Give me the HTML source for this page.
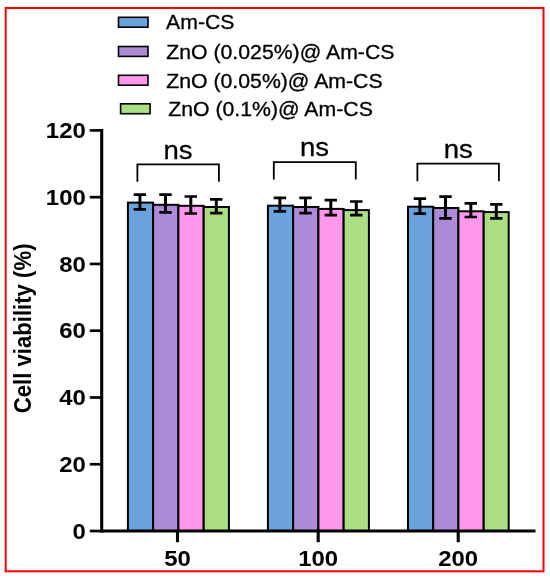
<!DOCTYPE html>
<html><head><meta charset="utf-8"><title>Cell viability chart</title>
<style>
html,body{margin:0;padding:0;background:#fff;}
body{width:550px;height:582px;overflow:hidden;}
text{font-family:"Liberation Sans",Arial,Helvetica,sans-serif;fill:#000;}
.b{font-weight:700;}
.r{font-weight:400;stroke:#000;stroke-width:0.3px;}
</style></head><body>
<svg width="550" height="582" viewBox="0 0 550 582" style="display:block">
<rect x="0" y="0" width="550" height="582" fill="#fff"/>
<rect x="5.7" y="8" width="537.8" height="563.3" fill="none" stroke="#ff0000" stroke-width="2"/>
<rect x="127.9" y="202.6" width="25.20" height="328.40" fill="#6aa2dc" stroke="#000" stroke-width="2"/>
<rect x="153.1" y="204.8" width="25.30" height="326.20" fill="#ad8ad6" stroke="#000" stroke-width="2"/>
<rect x="178.4" y="205.8" width="25.30" height="325.20" fill="#ff97ec" stroke="#000" stroke-width="2"/>
<rect x="203.7" y="207.0" width="25.20" height="324.00" fill="#acdf83" stroke="#000" stroke-width="2"/>
<path d="M133.70000000000002 194.6H146.1M133.70000000000002 209.3H146.1" stroke="#000" stroke-width="2.7" fill="none"/>
<path d="M139.9 194.6V209.3" stroke="#000" stroke-width="3" fill="none"/>
<path d="M159.3 194.6H171.7M159.3 212.3H171.7" stroke="#000" stroke-width="2.7" fill="none"/>
<path d="M165.5 194.6V212.3" stroke="#000" stroke-width="3" fill="none"/>
<path d="M184.60000000000002 196.5H197.0M184.60000000000002 213.5H197.0" stroke="#000" stroke-width="2.7" fill="none"/>
<path d="M190.8 196.5V213.5" stroke="#000" stroke-width="3" fill="none"/>
<path d="M210.10000000000002 199.3H222.5M210.10000000000002 213.1H222.5" stroke="#000" stroke-width="2.7" fill="none"/>
<path d="M216.3 199.3V213.1" stroke="#000" stroke-width="3" fill="none"/>
<path d="M137.4 181.8V164.3H218.9V181.8" stroke="#000" stroke-width="1.8" fill="none"/>
<text transform="translate(178,158.5) scale(1.035,1)" text-anchor="middle" font-size="26.6" class="r">ns</text>
<rect x="267.9" y="205.7" width="25.25" height="325.30" fill="#6aa2dc" stroke="#000" stroke-width="2"/>
<rect x="293.15" y="207.0" width="25.25" height="324.00" fill="#ad8ad6" stroke="#000" stroke-width="2"/>
<rect x="318.4" y="208.9" width="25.25" height="322.10" fill="#ff97ec" stroke="#000" stroke-width="2"/>
<rect x="343.65" y="210.1" width="25.25" height="320.90" fill="#acdf83" stroke="#000" stroke-width="2"/>
<path d="M273.7 197.8H286.09999999999997M273.7 211.3H286.09999999999997" stroke="#000" stroke-width="2.7" fill="none"/>
<path d="M279.9 197.8V211.3" stroke="#000" stroke-width="3" fill="none"/>
<path d="M299.3 197.8H311.7M299.3 213.2H311.7" stroke="#000" stroke-width="2.7" fill="none"/>
<path d="M305.5 197.8V213.2" stroke="#000" stroke-width="3" fill="none"/>
<path d="M324.6 200.2H337.0M324.6 215.1H337.0" stroke="#000" stroke-width="2.7" fill="none"/>
<path d="M330.8 200.2V215.1" stroke="#000" stroke-width="3" fill="none"/>
<path d="M350.1 201.5H362.5M350.1 215.1H362.5" stroke="#000" stroke-width="2.7" fill="none"/>
<path d="M356.3 201.5V215.1" stroke="#000" stroke-width="3" fill="none"/>
<path d="M273.8 179.5V162.1H355.8V179.5" stroke="#000" stroke-width="1.8" fill="none"/>
<text transform="translate(314.6,156.2) scale(1.035,1)" text-anchor="middle" font-size="26.6" class="r">ns</text>
<rect x="408" y="206.7" width="25.20" height="324.30" fill="#6aa2dc" stroke="#000" stroke-width="2"/>
<rect x="433.2" y="208.0" width="25.20" height="323.00" fill="#ad8ad6" stroke="#000" stroke-width="2"/>
<rect x="458.4" y="211.3" width="25.30" height="319.70" fill="#ff97ec" stroke="#000" stroke-width="2"/>
<rect x="483.7" y="212.1" width="25.00" height="318.90" fill="#acdf83" stroke="#000" stroke-width="2"/>
<path d="M413.7 198.6H426.09999999999997M413.7 213.6H426.09999999999997" stroke="#000" stroke-width="2.7" fill="none"/>
<path d="M419.9 198.6V213.6" stroke="#000" stroke-width="3" fill="none"/>
<path d="M439.3 196.7H451.7M439.3 218.3H451.7" stroke="#000" stroke-width="2.7" fill="none"/>
<path d="M445.5 196.7V218.3" stroke="#000" stroke-width="3" fill="none"/>
<path d="M464.6 203.3H477.0M464.6 217.0H477.0" stroke="#000" stroke-width="2.7" fill="none"/>
<path d="M470.8 203.3V217.0" stroke="#000" stroke-width="3" fill="none"/>
<path d="M490.1 204.3H502.5M490.1 218.3H502.5" stroke="#000" stroke-width="2.7" fill="none"/>
<path d="M496.3 204.3V218.3" stroke="#000" stroke-width="3" fill="none"/>
<path d="M417.4 181.2V163.6H498.9V181.2" stroke="#000" stroke-width="1.8" fill="none"/>
<text transform="translate(458.2,157.7) scale(1.035,1)" text-anchor="middle" font-size="26.6" class="r">ns</text>
<path d="M101.7 129.1V532.5" stroke="#000" stroke-width="3.1" fill="none"/>
<path d="M100.2 531H535.5" stroke="#000" stroke-width="3.1" fill="none"/>
<path d="M89.8 130.40H101" stroke="#000" stroke-width="2.7" fill="none"/>
<text transform="translate(85.8,138.00) scale(1.055,1)" text-anchor="end" font-size="22.7" class="b">120</text>
<path d="M89.8 197.17H101" stroke="#000" stroke-width="2.7" fill="none"/>
<text transform="translate(85.8,204.77) scale(1.055,1)" text-anchor="end" font-size="22.7" class="b">100</text>
<path d="M89.8 263.94H101" stroke="#000" stroke-width="2.7" fill="none"/>
<text transform="translate(85.8,271.54) scale(1.055,1)" text-anchor="end" font-size="22.7" class="b">80</text>
<path d="M89.8 330.71H101" stroke="#000" stroke-width="2.7" fill="none"/>
<text transform="translate(85.8,338.31) scale(1.055,1)" text-anchor="end" font-size="22.7" class="b">60</text>
<path d="M89.8 397.48H101" stroke="#000" stroke-width="2.7" fill="none"/>
<text transform="translate(85.8,405.08) scale(1.055,1)" text-anchor="end" font-size="22.7" class="b">40</text>
<path d="M89.8 464.25H101" stroke="#000" stroke-width="2.7" fill="none"/>
<text transform="translate(85.8,471.85) scale(1.055,1)" text-anchor="end" font-size="22.7" class="b">20</text>
<path d="M89.8 531.02H101" stroke="#000" stroke-width="2.7" fill="none"/>
<text transform="translate(85.8,538.62) scale(1.055,1)" text-anchor="end" font-size="22.7" class="b">0</text>
<path d="M177.5 531V542.2" stroke="#000" stroke-width="3.1" fill="none"/>
<text transform="translate(177.5,565.5) scale(1.055,1)" text-anchor="middle" font-size="22.7" class="b">50</text>
<path d="M318.2 531V542.2" stroke="#000" stroke-width="3.1" fill="none"/>
<text transform="translate(318.2,565.5) scale(1.055,1)" text-anchor="middle" font-size="22.7" class="b">100</text>
<path d="M458.2 531V542.2" stroke="#000" stroke-width="3.1" fill="none"/>
<text transform="translate(458.2,565.5) scale(1.055,1)" text-anchor="middle" font-size="22.7" class="b">200</text>
<text transform="translate(30.8,328.4) rotate(-90) scale(1,1.075)" text-anchor="middle" font-size="22.16" class="b">Cell viability (%)</text>
<rect x="118.5" y="17.3" width="29.5" height="9.9" fill="#6aa2dc" stroke="#000" stroke-width="1.6"/>
<text transform="translate(166,29) scale(1.085,1)" font-size="19.6" class="r">Am-CS</text>
<rect x="118.5" y="46.5" width="29.5" height="9.9" fill="#ad8ad6" stroke="#000" stroke-width="1.6"/>
<text transform="translate(166.2,59.0) scale(1.085,1)" font-size="19.6" class="r">ZnO (0.025%)@ Am-CS</text>
<rect x="118.5" y="75.3" width="29.5" height="9.9" fill="#ff97ec" stroke="#000" stroke-width="1.6"/>
<text transform="translate(166.2,87.8) scale(1.085,1)" font-size="19.6" class="r">ZnO (0.05%)@ Am-CS</text>
<rect x="120.6" y="103.8" width="29.5" height="9.9" fill="#acdf83" stroke="#000" stroke-width="1.6"/>
<text transform="translate(168.2,115.6) scale(1.085,1)" font-size="19.6" class="r">ZnO (0.1%)@ Am-CS</text>
</svg>
</body></html>
